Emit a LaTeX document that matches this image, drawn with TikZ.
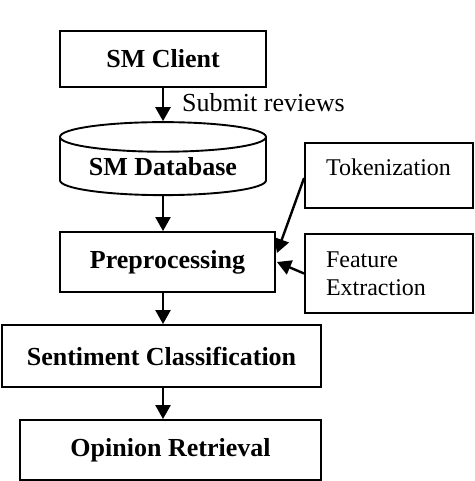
\documentclass[tikz,border=0pt]{standalone}
\usepackage{fontspec}
\setmainfont{Liberation Serif}
\usetikzlibrary{arrows.meta,shapes.geometric}
\tikzset{
  stage/.style={draw, line width=1.9pt, font=\fontsize{26}{28}\selectfont\bfseries, inner sep=0pt},
  side/.style={draw, line width=1.9pt, font=\fontsize{24}{28}\selectfont, inner sep=0pt, align=left,
    minimum width=168pt, text width=126pt},
  arr/.style={line width=2.4pt, -{Triangle[length=14pt,width=15pt]}}
}
\begin{document}
\begin{tikzpicture}[x=1pt,y=-1pt]
    \useasboundingbox (0,0) rectangle (474,481);
    \node[stage, minimum width=206pt, minimum height=56pt] (cl) at (163,59) {SM Client};
    \node[stage, cylinder, shape border rotate=90, aspect=0.2,
          minimum width=206pt, minimum height=73pt] (db) at (163,166.5) {SM Database};
    \node[stage, minimum width=215pt, minimum height=60pt] (pre) at (167.5,262) {Preprocessing};
    \node[stage, minimum width=319pt, minimum height=62pt] (sent) at (161.5,356) {Sentiment Classification};
    \node[stage, minimum width=301pt, minimum height=60pt] (op) at (170.5,450) {Opinion Retrieval};
    \node[side, minimum height=65pt, text depth=16pt] (tok) at (389,175.5) {Tokenization};
    \node[side, minimum height=79pt] (feat) at (389,273.5) {Feature\\Extraction};
	% flow
	\draw[arr] (cl.south) -- (cl.south |- db.north) node[pos=0.45, anchor=west, inner sep=0pt, xshift=18pt,
	      font=\fontsize{26}{28}\selectfont] (sub) {Submit reviews};
	\draw[arr] (db.south -| cl.south) -- (pre.north -| cl.south);
	\draw[arr] (pre.south -| cl.south) -- (sent.north -| cl.south);
	\draw[arr] (sent.south -| cl.south) -- (op.north -| cl.south);
	\draw[arr] ([yshift=-2.5pt]tok.west) -- ([yshift=9pt,xshift=1pt]pre.east);
	\draw[arr] (feat.west) -- ([xshift=1pt]pre.east);
\end{tikzpicture}
\end{document}
